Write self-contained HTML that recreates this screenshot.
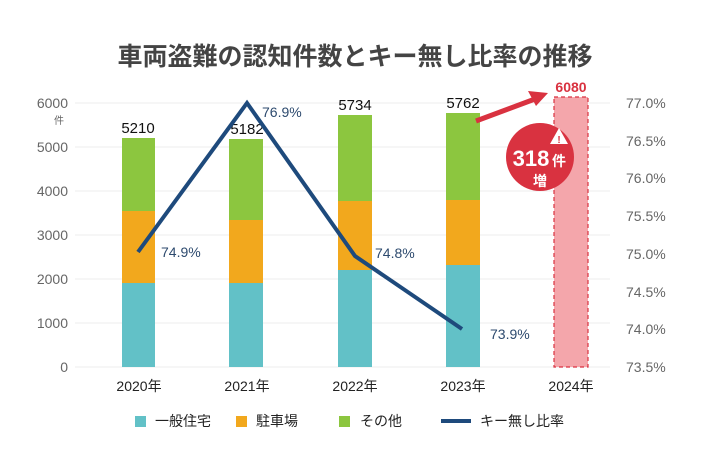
<!DOCTYPE html>
<html><head><meta charset="utf-8"><style>
body{margin:0;background:#fff;}
svg{display:block;font-family:"Liberation Sans","Noto Sans CJK JP",sans-serif;}
</style></head><body>
<svg width="710" height="474" viewBox="0 0 710 474" xmlns="http://www.w3.org/2000/svg">
<rect width="710" height="474" fill="#fff"/>
<text x="355" y="65" text-anchor="middle" font-size="25" font-weight="bold" fill="#444" font-family="Noto Sans CJK JP, sans-serif">車両盗難の認知件数とキー無し比率の推移</text>
<g stroke="#ececec" stroke-width="1">
<line x1="75" y1="103" x2="610" y2="103"/><line x1="75" y1="147" x2="610" y2="147"/>
<line x1="75" y1="191" x2="610" y2="191"/><line x1="75" y1="235" x2="610" y2="235"/>
<line x1="75" y1="279" x2="610" y2="279"/><line x1="75" y1="323" x2="610" y2="323"/>
<line x1="75" y1="367" x2="610" y2="367"/>
</g>
<g font-size="14" fill="#666" text-anchor="end">
<text x="68" y="108">6000</text><text x="68" y="152">5000</text><text x="68" y="196">4000</text>
<text x="68" y="240">3000</text><text x="68" y="284">2000</text><text x="68" y="328">1000</text><text x="68" y="372">0</text>
</g>
<text x="59" y="124" font-size="10" fill="#666" text-anchor="middle">件</text>
<g font-size="14" fill="#666">
<text x="626" y="108">77.0%</text><text x="626" y="146">76.5%</text><text x="626" y="183">76.0%</text>
<text x="626" y="221">75.5%</text><text x="626" y="259">75.0%</text><text x="626" y="297">74.5%</text>
<text x="626" y="334">74.0%</text><text x="626" y="372">73.5%</text>
</g>
<!-- bars -->
<rect x="122" y="138" width="33" height="73" fill="#8cc63f"/><rect x="122" y="211" width="33" height="72" fill="#f2a81d"/><rect x="122" y="283" width="33" height="84" fill="#62c1c7"/>
<rect x="229" y="139" width="34" height="81" fill="#8cc63f"/><rect x="229" y="220" width="34" height="63" fill="#f2a81d"/><rect x="229" y="283" width="34" height="84" fill="#62c1c7"/>
<rect x="338" y="115" width="34" height="86" fill="#8cc63f"/><rect x="338" y="201" width="34" height="69" fill="#f2a81d"/><rect x="338" y="270" width="34" height="97" fill="#62c1c7"/>
<rect x="446" y="113" width="34" height="87" fill="#8cc63f"/><rect x="446" y="200" width="34" height="65" fill="#f2a81d"/><rect x="446" y="265" width="34" height="102" fill="#62c1c7"/>
<rect x="554" y="97" width="34" height="270" fill="#f4a6ab" stroke="#d93240" stroke-width="1.2" stroke-dasharray="4,3"/>
<g font-size="15" fill="#111" text-anchor="middle">
<text x="138" y="133">5210</text><text x="247" y="134">5182</text><text x="355" y="110">5734</text><text x="463" y="108">5762</text>
</g>
<text x="571" y="92" font-size="14" font-weight="bold" fill="#d93240" text-anchor="middle">6080</text>
<polyline points="138,252 247,103 355,256 462,329" fill="none" stroke="#1e4a7c" stroke-width="4" stroke-linejoin="miter"/>
<g font-size="14" fill="#2d4a6e">
<text x="161" y="257">74.9%</text><text x="262" y="117">76.9%</text><text x="375" y="258">74.8%</text><text x="490" y="339">73.9%</text>
</g>
<!-- arrow -->
<line x1="476" y1="121" x2="535" y2="99" stroke="#d93240" stroke-width="5"/>
<polygon points="548,93 528,91 536,106" fill="#d93240"/>
<circle cx="540" cy="157" r="34" fill="#d93240"/>
<polygon points="559,128 550,144 568,144" fill="#fff"/>
<text x="559" y="143" font-size="10" font-weight="bold" fill="#d93240" text-anchor="middle">!</text>
<text x="531" y="166" font-size="22" font-weight="bold" fill="#fff" text-anchor="middle">318</text>
<text x="559" y="166" font-size="14" font-weight="bold" fill="#fff" text-anchor="middle">件</text>
<text x="540" y="186" font-size="14" font-weight="bold" fill="#fff" text-anchor="middle">増</text>
<g font-size="14" fill="#222" text-anchor="middle">
<text x="139" y="391">2020年</text><text x="247" y="391">2021年</text><text x="355" y="391">2022年</text><text x="463" y="391">2023年</text><text x="571" y="391">2024年</text>
</g>
<rect x="135" y="416" width="11" height="11" fill="#62c1c7"/>
<rect x="236" y="416" width="11" height="11" fill="#f2a81d"/>
<rect x="339" y="416" width="11" height="11" fill="#8cc63f"/>
<line x1="441" y1="421" x2="471" y2="421" stroke="#1e4a7c" stroke-width="4"/>
<g font-size="14" fill="#222">
<text x="155" y="426">一般住宅</text><text x="256" y="426">駐車場</text><text x="360" y="426">その他</text><text x="480" y="426">キー無し比率</text>
</g>
</svg>
</body></html>
